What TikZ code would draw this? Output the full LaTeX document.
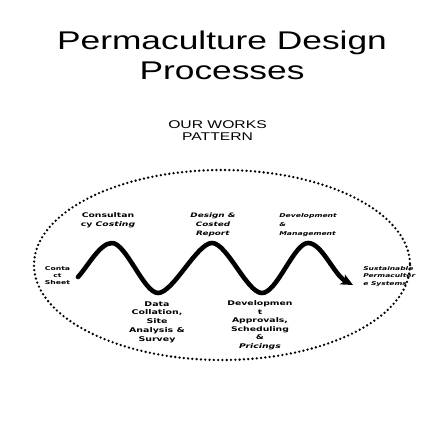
\documentclass[tikz,border=0pt]{standalone}
\usepackage{fontspec}
\setmainfont{Liberation Sans}
\newfontfamily\heavyfont{DejaVu Sans}
\usetikzlibrary{arrows.meta}
\tikzset{
  ttl/.style={font=\fontsize{25.6}{30}\selectfont, xscale=1.38, align=center, inner sep=0pt},
  sub/.style={font=\fontsize{11.2}{11.2}\selectfont, xscale=1.4, align=center, inner sep=0pt},
  lbl/.style 2 args={font=\heavyfont\bfseries\fontsize{#1}{#2}\selectfont, xscale=1.45, inner sep=0pt},
  wave/.style={line width=4.6pt, line cap=round, line join=round},
  dots/.style={line width=2.6pt, line cap=round, dash pattern=on 0pt off 4.3pt},
}
\begin{document}
\begin{tikzpicture}[x=1pt,y=-1pt]
\useasboundingbox (0,0) rectangle (443,443);
\fill[white] (0,0) rectangle (443,443);
% title
\node[ttl, anchor=base] (t1) at (222,50) {Permaculture Design};
\node[ttl, anchor=base] (t2) at (222,80) {Processes};
\node[sub, anchor=base] (s1) at (217.5,129) {OUR WORKS};
\node[sub, anchor=base] (s2) at (217.5,141) {PATTERN};
% ellipse
\draw[dots] (222,265) ellipse [x radius=188, y radius=95];
% wave
\coordinate (w0) at (78,277);
\coordinate (p1) at (112,243);
\coordinate (q1) at (158,293);
\coordinate (p2) at (212,243);
\coordinate (q2) at (262,293);
\coordinate (p3) at (308,243);
\coordinate (we) at (353,285);
\draw[wave, -{Stealth[length=12pt, width=11pt, inset=3pt]}]
  (w0) .. controls (88,266) and (100,243) .. (p1)
       .. controls (126,243) and (144,293) .. (q1)
       .. controls (173,293) and (197,243) .. (p2)
       .. controls (227,243) and (247,293) .. (q2)
       .. controls (277,293) and (294,243) .. (p3)
       .. controls (322,243) and (334,275) .. (we);
% labels (anchor base = baseline of last line)
\node[lbl={6.4}{8.7}, align=center, anchor=base] (consult) at (108,226) {Consultan\\ cy \textit{Costing}};
\node[lbl={6.1}{8.7}, align=center, anchor=base] (design) at (213,235) {\textit{Design \&}\\ \textit{Costed}\\ \textit{Report}};
\node[lbl={5.3}{8.7}, align=left, anchor=base west] (devman) at (279,235) {\textit{Development}\\ \textit{\&}\\ \textit{Management}};
\node[lbl={5.3}{7.1}, align=center, anchor=base] (contact) at (57.5,284.5) {Conta\\ ct\\ Sheet};
\node[lbl={5.2}{7.1}, align=left, anchor=base west] (sust) at (363,285) {\textit{Sustainable}\\ \textit{Permaculter}\\ \textit{e Systems}};
\node[lbl={6.5}{8.7}, align=center, anchor=base] (data) at (157,341) {Data\\ Collation,\\ Site\\ Analysis \&\\ Survey};
\node[lbl={6.4}{8.6}, align=center, anchor=base] (devapp) at (260,348.5) {Developmen\\ t\\ Approvals,\\ Scheduling\\ \&\\ \textit{Pricings}};
\end{tikzpicture}
\end{document}
